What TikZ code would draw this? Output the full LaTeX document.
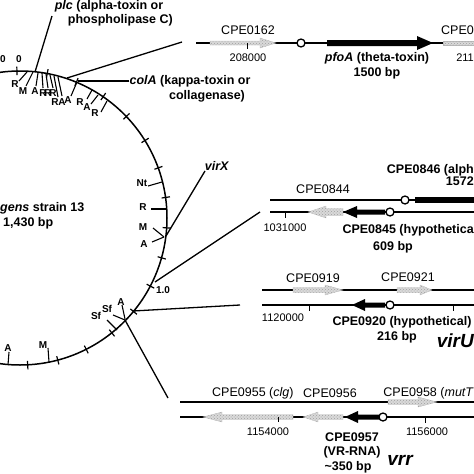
\documentclass[tikz,border=0pt]{standalone}
\usepackage{fontspec}
\setmainfont{Liberation Sans}
\usetikzlibrary{calc,patterns}
\begin{document}
\begin{tikzpicture}[x=1pt,y=-1pt,
  lbl/.style={font=\fontsize{12.5}{14}\selectfont, inner sep=0pt},
  bl/.style={font=\fontsize{12.5}{14}\selectfont\bfseries, inner sep=0pt},
  num/.style={font=\fontsize{11}{13}\selectfont, inner sep=0pt},
  mk/.style={font=\fontsize{10}{11}\selectfont\bfseries, inner sep=0pt},
  big/.style={font=\fontsize{19}{22}\selectfont\bfseries\itshape, inner sep=0pt},
  circ/.style={line width=1.5pt},
  tk/.style={line width=1.2pt},
  mline/.style={line width=1.1pt},
  conn/.style={line width=1.3pt},
  track/.style={line width=1.5pt},
  thin track/.style={line width=1.1pt},
  gr/.style={fill=gray!30, postaction={pattern=crosshatch dots, pattern color=gray!75}, draw=gray!55, line width=0.3pt},
  bk/.style={fill=black},
  oc/.style={draw=black, fill=white, line width=1.3pt},
  nt/.style={line width=1pt}]
\useasboundingbox (0,0) rectangle (474,474);
\clip (0,0) rectangle (474,474);

% ---------- circular chromosome ----------
\coordinate (C) at (20,218);
\draw[circ] (C) circle[radius=147pt];
\foreach \k in {-1,...,17}{
  \draw[tk] ($(C)+({91.2-11.88*\k}:143pt)$) -- ($(C)+({91.2-11.88*\k}:151.5pt)$);
}
\node[mk] (z0) at (19,59) {0};
\node[mk] (z3) at (3,59) {0};
\node[mk] (one) at (163,290) {1.0};

% gene markers (top)
\draw[mline] (27,72) -- (19,81);  \node[mk] (m1) at (15,84) {R};
\draw[mline] (33,72) -- (26,86);  \node[mk] (m2) at (23,91) {M};
\draw[mline] (38,73) -- (36,86);  \node[mk] (m3) at (35,91) {A};
\draw[mline] (42,73) -- (43,88);  \node[mk] (m4) at (43,93) {R};
\draw[mline] (46,74) -- (48,88);  \node[mk] (m5) at (48,93) {R};
\draw[mline] (50,75) -- (53,88);  \node[mk] (m6) at (53,93) {R};
\draw[mline] (54,76) -- (58,97);  \node[mk] (m7) at (55,102) {R};
\draw[mline] (58,77) -- (62,96);  \node[mk] (m8) at (62,102) {A};
\draw[mline] (77,82) -- (71,96);  \node[mk] (m9) at (68,100) {A};
\draw[mline] (92,90) -- (87,99);  \node[mk] (m10) at (80,102) {R};
\draw[mline] (98,95) -- (91,104); \node[mk] (m11) at (87,107) {A};
\draw[mline] (107,101) -- (101,112); \node[mk] (m12) at (95,113) {R};
% gene markers (right side)
\draw[mline] (148,186) -- (162,182); \node[mk] (m13) at (142,183) {Nt};
\draw[mline] (151,209) -- (166,209); \node[mk] (m14) at (143,207) {R};
\draw[mline] (153,228) -- (164,237); \node[mk] (m15) at (143,227) {M};
\draw[mline] (152,242) -- (164,237); \node[mk] (m16) at (144,244) {A};
% gene markers (bottom)
\draw[mline] (122,305) -- (125,319); \node[mk] (m17) at (121,302) {A};
\draw[mline] (113,315) -- (125,320); \node[mk] (m18) at (107,309) {Sf};
\draw[mline] (107,320) -- (117,330); \node[mk] (m19) at (96,316) {Sf};
\draw[mline] (48,348) -- (49,362); \node[mk] (m20) at (43,345) {M};
\draw[mline] (9,352) -- (8,365); \node[mk] (m21) at (8,348) {A};

% title
\node[bl, anchor=west] (t1) at (0,208) {\textit{gens} strain 13};
\node[bl, anchor=west] (t2) at (3,223) {1,430 bp};

% ---------- labels & connectors on the circle ----------
\node[bl] (plc1) at (109,6) {\textit{plc} (alpha-toxin or};
\node[bl, anchor=east] (plc2) at (173,20) {phospholipase C)};
\coordinate (plcA) at (35,72);
\draw[conn] (plcA) -- (52,16);

\node[bl] (col1) at (190,81) {\textit{colA} (kappa-toxin or};
\node[bl] (col2) at (207,96) {collagenase)};
\coordinate (colA) at (78,81);
\draw[conn] (colA) -- (col1.west);

\node[bl] (vx) at (217,166) {\textit{virX}};
\coordinate (vxA) at (166,236);
\draw[conn] (vxA) -- (205,171);

\coordinate (p1A) at (67,78); \coordinate (p1B) at (182,42);
\draw[conn] (p1A) -- (p1B);
\coordinate (p2A) at (155,282); \coordinate (p2B) at (260,212);
\draw[conn] (p2A) -- (p2B);
\coordinate (p3A) at (133,311); \coordinate (p3B) at (240,305);
\draw[conn] (p3A) -- (p3B);
\coordinate (p4A) at (125,320); \coordinate (p4B) at (168,398);
\draw[conn] (p4A) -- (p4B);

% ---------- panel 1: pfoA ----------
\draw[thin track] (196,43) -- (474,43);
\path[gr] (210,41) -- (260,41) -- (260,38) -- (276,43) -- (260,48) -- (260,45) -- (210,45) -- cycle;
\path[gr] (443,41) -- (474,41) -- (474,45) -- (443,45) -- cycle;
\draw[nt] (247,43) -- (247,49);
\fill[bk] (327,40) -- (417,40) -- (417,36) -- (433,43) -- (417,50) -- (417,46) -- (327,46) -- cycle;
\draw[oc] (301,43) circle[radius=4pt];
\node[lbl] (c162) at (248,30) {CPE0162};
\node[num] (n208) at (248,58) {208000};
\node[bl] (pfo) at (377,58) {\textit{pfoA} (theta-toxin)};
\node[bl] (pfo2) at (377,73) {1500 bp};
\node[lbl, anchor=east] (c163) at (474,30) {CPE0};
\node[num, anchor=east] (n211) at (474,58) {211};

% ---------- panel 2: CPE0846 ----------
\draw[track] (270,200) -- (474,200);
\draw[track] (270,212) -- (474,212);
\fill[bk] (415,197) rectangle (474,203);
\draw[oc] (405,200) circle[radius=4pt];
\path[gr] (308,212) -- (326,206) -- (326,208.5) -- (343,208.5) -- (343,215.5) -- (326,215.5) -- (326,218) -- cycle;
\fill[bk] (343,212) -- (357,206) -- (357,209.5) -- (385,209.5) -- (385,214.5) -- (357,214.5) -- (357,218) -- cycle;
\draw[oc] (390,212) circle[radius=4pt];
\draw[nt] (285,212) -- (285,218);
\node[lbl] (c844) at (323,189) {CPE0844};
\node[bl, anchor=east] (c846) at (474,170) {CPE0846 (alph};
\node[bl, anchor=east] (c846b) at (474,181) {1572};
\node[num] (n1031) at (285,228) {1031000};
\node[bl, anchor=east] (c845) at (474,230) {CPE0845 (hypothetica};
\node[bl] (c845b) at (393,247) {609 bp};

% ---------- panel 3: CPE0920 ----------
\draw[track] (262,290) -- (474,290);
\draw[track] (262,305) -- (474,305);
\path[gr] (293,287.5) -- (325,287.5) -- (325,285) -- (343,290) -- (325,295) -- (325,292.5) -- (293,292.5) -- cycle;
\path[gr] (397,287.5) -- (420,287.5) -- (420,285) -- (432,290) -- (420,295) -- (420,292.5) -- (397,292.5) -- cycle;
\fill[bk] (352,305) -- (365,299) -- (365,302.5) -- (385,302.5) -- (385,307.5) -- (365,307.5) -- (365,311) -- cycle;
\draw[oc] (390,305) circle[radius=4pt];
\draw[nt] (309,305) -- (309,311);
\draw[nt] (453,305) -- (453,311);
\node[lbl] (c919) at (313,278) {CPE0919};
\node[lbl] (c921) at (408,277) {CPE0921};
\node[num] (n1120) at (283,318) {1120000};
\node[bl] (c920) at (402,322) {CPE0920 (hypothetical)};
\node[bl] (c920b) at (397,337) {216 bp};
\node[big, anchor=east] (virU) at (474,341) {virU};

% ---------- panel 4: vrr ----------
\draw[track] (180,402) -- (474,402);
\draw[track] (180,417) -- (474,417);
\path[gr] (388,399.5) -- (418,399.5) -- (418,397) -- (437,402) -- (418,407) -- (418,404.5) -- (388,404.5) -- cycle;
\path[gr] (203,417) -- (222,412) -- (222,414.5) -- (293,414.5) -- (293,419.5) -- (222,419.5) -- (222,422) -- cycle;
\path[gr] (303,417) -- (318,412) -- (318,414.5) -- (343,414.5) -- (343,419.5) -- (318,419.5) -- (318,422) -- cycle;
\fill[bk] (345,417) -- (358,411) -- (358,414.5) -- (380,414.5) -- (380,419.5) -- (358,419.5) -- (358,423) -- cycle;
\draw[oc] (383,417) circle[radius=4pt];
\draw[nt] (278,417) -- (278,422);
\draw[nt] (425,417) -- (425,423);
\node[lbl, anchor=west] (c955) at (212,393) {CPE0955 (\textit{clg})};
\node[lbl, anchor=west] (c956) at (303,393) {CPE0956};
\node[lbl, anchor=east] (c958) at (474,393) {CPE0958 (\textit{mutT}};
\node[num] (n1154) at (268,432) {1154000};
\node[num] (n1156) at (427,432) {1156000};
\node[bl] (c957) at (352,437) {CPE0957};
\node[bl] (c957b) at (352,452) {(VR-RNA)};
\node[bl] (c957c) at (348,467) {\textasciitilde350 bp};
\node[big] (vrr) at (400,460) {vrr};
\end{tikzpicture}
\end{document}
